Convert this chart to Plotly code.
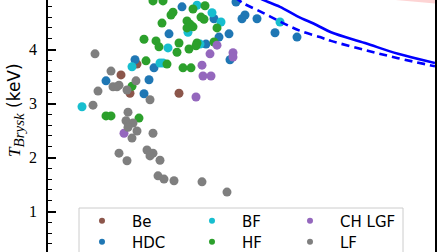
import plotly.graph_objects as go

# ---- data ----
be_x = [8.9, 7.3, 8.2, 13.1]
be_y = [3.73, 3.53, 3.19, 3.19]

hdc_x = [8.7, 5.8, 10.1, 9.6, 10.6, 12.1, 13.4, 16.6, 17.1, 18.1, 18.2, 15.8, 18.8, 19.7, 19.4, 20.9, 22.7, 24.9]
hdc_y = [3.81, 3.42, 3.44, 3.18, 3.66, 4.29, 4.79, 4.57, 4.23, 4.29, 3.81, 4.10, 4.88, 4.64, 4.57, 4.57, 4.31, 4.23]

bf_x = [8.4, 3.4, 14.9, 16.4, 17.3, 14.0, 12.0, 11.2, 11.5, 15.2, 23.2]
bf_y = [3.68, 2.94, 4.82, 4.68, 4.51, 4.32, 4.03, 3.75, 3.75, 4.10, 4.51]

hf_x = [10.5, 11.5, 15.7, 14.5, 12.5, 12.3, 15.3, 15.6, 11.4, 13.9, 14.2, 13.9, 14.5, 16.9, 9.6, 9.8,
        10.8, 11.1, 13.1, 12.9, 14.1, 14.9, 14.8, 16.6, 11.9, 13.5, 14.3, 8.4, 5.8, 6.3, 9.1]
hf_y = [4.90, 4.90, 4.81, 4.75, 4.69, 4.64, 4.60, 4.56, 4.49, 4.53, 4.47, 4.40, 4.42, 4.40, 4.19, 3.79,
        4.16, 4.05, 4.12, 3.95, 4.01, 4.12, 4.07, 4.14, 3.73, 3.66, 3.66, 3.32, 2.77, 2.77, 2.73]

chlgf_x = [7.6, 16.9, 16.2, 18.5, 18.5, 15.4, 15.5, 16.3, 14.8]
chlgf_y = [2.45, 4.08, 3.92, 3.94, 3.86, 3.71, 3.51, 3.51, 3.12]

lf_x = [4.7, 6.3, 6.5, 6.9, 7.1, 8.8, 5.0, 7.9, 10.2, 4.5, 8.0, 7.8, 8.5, 8.0, 8.9, 8.4, 7.1, 7.9,
        9.9, 10.5, 10.5, 10.2, 11.2, 11.0, 11.6, 12.6, 15.4, 17.9]
lf_y = [3.92, 3.60, 3.31, 3.31, 3.34, 3.42, 3.23, 3.25, 3.07, 2.97, 2.84, 2.68, 2.64, 2.56, 2.49, 2.36, 2.08, 1.94,
        2.14, 2.45, 2.08, 2.03, 1.95, 1.66, 1.60, 1.57, 1.55, 1.36]

model_solid_x = [20.6, 21.5, 23.2, 24.9, 26.9, 28.3, 31.7, 35.0, 38.7]
model_solid_y = [5.01, 4.92, 4.79, 4.62, 4.45, 4.32, 4.12, 3.92, 3.75]

model_dash_x = [18.7, 19.5, 21.5, 23.5, 25.3, 27.2, 28.3, 31.7, 35.0, 38.7]
model_dash_y = [4.97, 4.86, 4.68, 4.49, 4.34, 4.23, 4.16, 3.99, 3.84, 3.69]

band_x = [34.0, 38.7]
band_lo = [4.93, 4.85]
band_hi = [5.6, 5.6]

# name, x, y, colour, legend id, legend column (px), legend row (px)
groups = [
    ("Be", be_x, be_y, "#8c564b", "legend", 72, 221),
    ("HDC", hdc_x, hdc_y, "#1f77b4", "legend2", 72, 242),
    ("BF", bf_x, bf_y, "#17becf", "legend3", 182, 221),
    ("HF", hf_x, hf_y, "#2ca02c", "legend4", 182, 242),
    ("CH LGF", chlgf_x, chlgf_y, "#9467bd", "legend5", 280, 221),
    ("LF", lf_x, lf_y, "#7f7f7f", "legend6", 280, 242),
]

fig = go.Figure()

# pink band (upper right corner)
fig.add_trace(go.Scatter(x=band_x, y=band_hi, mode="lines", line=dict(width=0),
                         showlegend=False, hoverinfo="skip"))
fig.add_trace(go.Scatter(x=band_x, y=band_lo, mode="lines", line=dict(width=0),
                         fill="tonexty", fillcolor="rgba(250,160,160,0.45)",
                         showlegend=False, hoverinfo="skip"))

for name, xs, ys, col, lg, cx, cy in groups:
    fig.add_trace(go.Scatter(x=xs, y=ys, mode="markers", name=name,
                             marker=dict(color=col, size=9, line=dict(width=0)),
                             showlegend=False))

fig.add_trace(go.Scatter(x=model_solid_x, y=model_solid_y, mode="lines",
                         line=dict(color="#0000ff", width=2.6, shape="spline"), showlegend=False))
fig.add_trace(go.Scatter(x=model_dash_x, y=model_dash_y, mode="lines",
                         line=dict(color="#0000ff", width=2.6, dash="8px,5px", shape="spline"),
                         showlegend=False))

W = 387.0
H = 252.0
def lx(px):
    return (px - 48) / W
def ly(py):
    return (H - py) / H

legfont = dict(family="DejaVu Sans", size=15, color="black")
legends = {}
for name, xs, ys, col, lg, cx, cy in groups:
    fig.add_trace(go.Scatter(x=[None], y=[None], mode="markers", name=name,
                             marker=dict(color=col, size=6), legend=lg, showlegend=True))
    legends[lg] = dict(orientation="v", bgcolor="rgba(0,0,0,0)", borderwidth=0, font=legfont,
                       itemwidth=50, x=lx(cx), y=ly(cy), xanchor="left", yanchor="middle")
fig.update_layout(**legends)

fig.add_shape(type="rect", xref="paper", yref="paper",
              x0=lx(79), x1=lx(403), y0=-0.3, y1=ly(208),
              line=dict(color="#cccccc", width=1), fillcolor="rgba(255,255,255,0.8)", layer="above")

fig.update_layout(
    width=448, height=252,
    margin=dict(l=48, r=13, t=0, b=0, autoexpand=False),
    paper_bgcolor="white", plot_bgcolor="white",
    showlegend=True,
    xaxis=dict(range=[0, 38.7], showticklabels=False, ticks="", showline=False,
               showgrid=False, zeroline=False),
    yaxis=dict(range=[0.25, 4.917], dtick=1, tick0=0, ticks="inside", ticklen=8, tickwidth=1.5,
               tickcolor="black", showline=True, linecolor="black", linewidth=1.6, mirror=True,
               showgrid=False, zeroline=False, ticklabelstandoff=6,
               tickfont=dict(family="Liberation Serif", size=16, color="black"),
               minor=dict(ticks="inside", ticklen=4.5, tickwidth=1.2, dtick=0.2, tickcolor="black",
                          showgrid=False)),
)

fig.add_annotation(
    xref="paper", yref="paper", x=-(48 - 15) / W, y=ly(110),
    xanchor="center", yanchor="middle", textangle=-90, showarrow=False,
    text=("<i>T</i><sub><span style=\"font-size:15px\"><i>Brysk</i></span></sub>"
          "<span style=\"font-family:'DejaVu Sans'\"> (keV)</span>"),
    font=dict(family="Liberation Serif", size=17, color="black"),
)

fig.write_html("out.html", config={"displayModeBar": False},
               post_script="document.body.style.margin='0px';")
